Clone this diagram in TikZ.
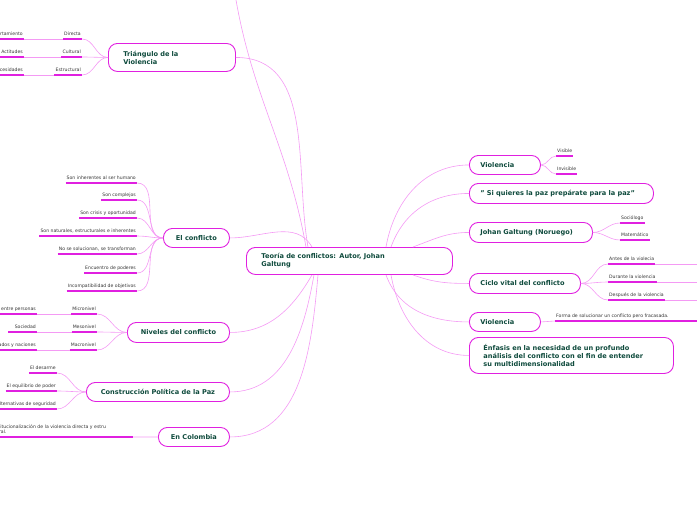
\documentclass[tikz,border=0pt]{standalone}
\usepackage{fontspec}
\setmainfont{DejaVu Sans}
\definecolor{mg}{HTML}{E020E0}
\definecolor{lk}{HTML}{F49AF4}
\definecolor{tg}{HTML}{0E4A3C}
\definecolor{lt}{HTML}{333333}
\begin{document}
\begin{tikzpicture}[x=1pt,y=-1pt,
  main/.style={draw=mg,line width=0.9pt,rounded corners=9pt,font=\fontsize{6.6}{8}\selectfont\bfseries,text=tg,align=left,inner sep=0pt,anchor=north west},
  leafl/.style={font=\fontsize{4.6}{5.6}\selectfont,text=lt,anchor=south east,inner xsep=1pt,inner ysep=2.8pt},
  leafr/.style={font=\fontsize{4.6}{5.6}\selectfont,text=lt,anchor=south west,inner xsep=1pt,inner ysep=2.8pt},
  ul/.style={draw=mg,line width=1.3pt},
  cn/.style={draw=lk,line width=0.6pt}]
\useasboundingbox (0,0) rectangle (697,520);
\clip (0,0) rectangle (697,520);
% main nodes
\node[main,minimum height=27pt,text width=206pt] (c) at (246,247) {\hspace*{15pt}Teoría de conflictos: Autor, Johan\\\hspace*{15pt}Galtung};
\node[main,minimum height=28pt,text width=127pt] (t) at (108,43) {\hspace*{15pt}Triángulo de la\\\hspace*{15pt}Violencia};
\node[main,minimum width=66pt,minimum height=19pt,align=center] (ec) at (163,228) {El conflicto};
\node[main,minimum width=102pt,minimum height=20pt,align=center] (nv) at (127,322) {Niveles del conflicto};
\node[main,minimum width=143pt,minimum height=19pt,align=center] (cp) at (86,382) {Construcción Política de la Paz};
\node[main,minimum width=71pt,minimum height=19pt,align=center] (co) at (158,427) {En Colombia};
\node[main,minimum height=19pt,text width=71pt] (v1) at (469,155) {\hspace*{11pt}Violencia};
\node[main,minimum height=20pt,text width=184pt] (q) at (469,183) {\hspace*{11pt}" Si quieres la paz prepárate para la paz"};
\node[main,minimum height=20pt,text width=123pt] (jg) at (469,222) {\hspace*{11pt}Johan Galtung (Noruego)};
\node[main,minimum height=20pt,text width=111pt] (cv) at (469,273) {\hspace*{11pt}Ciclo vital del conflicto};
\node[main,minimum height=19pt,text width=71pt] (v2) at (469,312) {\hspace*{11pt}Violencia};
\node[main,minimum height=36pt,text width=204pt] (en) at (469,337) {\hspace*{14pt}Énfasis en la necesidad de un profundo\\\hspace*{14pt}análisis del conflicto con el fin de entender\\\hspace*{14pt}su multidimensionalidad};
% central connectors
\coordinate (top) at (236,0);
\draw[cn] (c.north west)++(60,0) to[out=100,in=-80] (top);
\draw[cn] (c.north west)++(62,0) to[out=100,in=0] (t.east);
\draw[cn] (c.north west)++(66,0) to[out=120,in=0] (ec.east);
\draw[cn] (c.south west)++(66,0) to[out=240,in=0] (nv.east);
\draw[cn] (c.south west)++(68,0) to[out=260,in=0] (cp.east);
\draw[cn] (c.south west)++(72,0) to[out=265,in=0] (co.east);
\draw[cn] (c.north west)++(140,0) to[out=80,in=180] (v1.west);
\draw[cn] (c.north west)++(145,0) to[out=70,in=180] (q.west);
\draw[cn] (c.north east)++(-40,0) to[out=20,in=180] (jg.west);
\draw[cn] (c.south east)++(-40,0) to[out=-20,in=180] (cv.west);
\draw[cn] (c.south west)++(140,0) to[out=-70,in=180] (v2.west);
\draw[cn] (c.south west)++(145,0) to[out=-80,in=180] (en.west);
% Triangulo leaves
\foreach \n/\y/\t/\s/\sw in {td/39/Directa/Comportamiento/-25, tc/57/Cultural/Actitudes/-8, te/75/Estructural/Necesidades/-30}{
  \node[leafl] (\n) at (82,\y) {\t};
  \node[leafl] (\n s) at (24,\y) {\s};
  \draw[ul] (\n.south west) -- (\n.south east);
  \draw[ul] (\sw,\y) -- (\n s.south east);
  \draw[cn] (\n s.south east) -- (\n.south west);
  \draw[cn] (t.west) to[out=180,in=0] (\n.south east);
}
% El conflicto leaves
\foreach \n/\y/\t in {a1/183/Son inherentes al ser humano, a2/200/Son complejos, a3/218/Son crisis y oportunidad, a4/236/{Son naturales, estructurales e inherentes}, a5/254/{No se solucionan, se transforman}, a6/273/Encuentro de poderes, a7/291/Incompatibilidad de objetivos}{
  \node[leafl] (\n) at (137,\y) {\t};
  \draw[ul] (\n.south west) -- (\n.south east);
  \draw[cn] (ec.west) to[out=180,in=0] (\n.south east);
}
% Niveles leaves
\foreach \n/\y/\t/\s/\sw in {n1/314/Micronivel/Conflictos entre personas/-40, n2/332/Mesonivel/Sociedad/8, n3/350/Macronivel/Estados y naciones/-30}{
  \node[leafl] (\n) at (97,\y) {\t};
  \node[leafl] (\n s) at (37,\y) {\s};
  \draw[ul] (\n.south west) -- (\n.south east);
  \draw[ul] (\sw,\y) -- (\n s.south east);
  \draw[cn] (\n s.south east) -- (\n.south west);
  \draw[cn] (nv.west) to[out=180,in=0] (\n.south east);
}
% Construccion leaves
\foreach \n/\y/\t in {p1/373/El desarme, p2/391/El equilibrio de poder, p3/409/Alternativas de seguridad}{
  \node[leafl] (\n) at (57,\y) {\t};
  \draw[ul] (\n.south west) -- (\n.south east);
  \draw[cn] (cp.west) to[out=180,in=0] (\n.south east);
}
% En Colombia leaf
\node[leafl,align=left,text width=140pt] (k1) at (133,437) {Institucionalización de la violencia directa y estru\\ctural.};
\draw[ul] (-10,437) -- (k1.south east);
\draw[cn] (co.west) to[out=180,in=0] (k1.south east);
% right leaves
\foreach \p/\n/\x/\y/\t in {v1/r1/556/156/Visible, v1/r2/556/174/Invisible, jg/r3/620/223/Sociólogo, jg/r4/620/240/Matemático}{
  \node[leafr] (\n) at (\x,\y) {\t};
  \draw[ul] (\n.south west) -- (\n.south east);
  \draw[cn] (\p.east) to[out=0,in=180] (\n.south west);
}
\foreach \n/\y/\t in {s1/264/Antes de la violecia, s2/282/Durante la violencia, s3/300/Después de la violencia}{
  \node[leafr] (\n) at (608,\y) {\t};
  \draw[ul] (\n.south west) -- (\n.south east);
  \draw[cn] (\n.south east) -- (700,\y);
  \draw[cn] (cv.east) to[out=0,in=180] (\n.south west);
}
\node[leafr] (f1) at (555,321) {Forma de solucionar un conflicto pero fracasada.};
\draw[ul] (f1.south west) -- (700,321);
\draw[cn] (v2.east) -- (f1.south west);
\end{tikzpicture}
\end{document}
